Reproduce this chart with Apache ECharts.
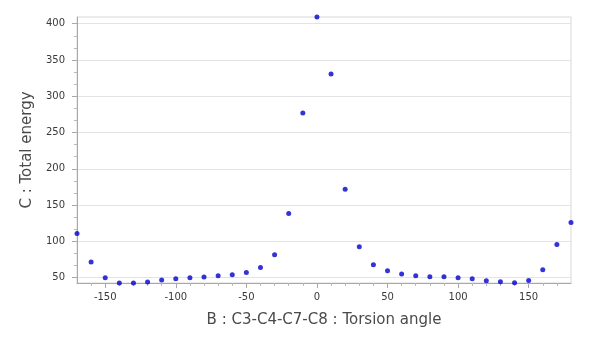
<!DOCTYPE html>
<html>
<head>
<meta charset="utf-8">
<script src="https://cdn.jsdelivr.net/npm/echarts@6/dist/echarts.min.js"></script>
<style>html,body{margin:0;padding:0;background:#fff;}#c{width:600px;height:337px;}</style>
</head>
<body>
<div id="c"></div>
<script>
const torsionAngles = [-170,-160,-150,-140,-130,-120,-110,-100,-90,-80,-70,-60,-50,-40,-30,-20,-10,0,10,20,30,40,50,60,70,80,90,100,110,120,130,140,150,160,170,180];
const totalEnergy = [111,71.6,50,42.7,42.7,44,47,48.6,50,51,52.8,54,57,64,81.7,138.6,277,409.2,330.7,171.7,92.7,68,59.6,55,52.8,51.4,51.4,50,48.6,45.9,44.5,43,46,61,95.9,126];
const xTickLabels = [-150,-100,-50,0,50,100,150];
const yTickLabels = [50,100,150,200,250,300,350,400];
const xTitle = 'B : C3-C4-C7-C8 : Torsion angle';
const yTitle = 'C : Total energy';

const points = torsionAngles.map((a, i) => [a, totalEnergy[i]]);
const font = 'DejaVu Sans';
const chart = echarts.init(document.getElementById('c'), null, {renderer: 'canvas'});
chart.setOption({
  animation: false,
  backgroundColor: '#ffffff',
  grid: {left: 77, right: 29, top: 17, bottom: 54, show: true, borderColor: '#d8d8d8', borderWidth: 1, backgroundColor: 'transparent'},
  xAxis: {
    type: 'value', min: 'dataMin', max: 'dataMax', splitNumber: 7,
    name: xTitle, nameLocation: 'middle', nameGap: 30,
    nameTextStyle: {fontFamily: font, fontSize: 15, color: '#4a4a4a'},
    axisLine: {show: true, onZero: false, lineStyle: {color: '#a8a8a8'}},
    axisTick: {show: true, length: 5, customValues: xTickLabels, lineStyle: {color: '#a8a8a8'}},
    minorTick: {show: true, splitNumber: 5, length: 3, lineStyle: {color: '#b8b8b8'}},
    axisLabel: {customValues: xTickLabels, fontFamily: font, fontSize: 10, color: '#3a3a3a', margin: 9},
    splitLine: {show: false}
  },
  yAxis: {
    type: 'value', min: 'dataMin', max: 'dataMax', splitNumber: 7,
    name: yTitle, nameLocation: 'middle', nameGap: 38,
    nameTextStyle: {fontFamily: font, fontSize: 15, color: '#4a4a4a'},
    axisLine: {show: true, onZero: false, lineStyle: {color: '#a8a8a8'}},
    axisTick: {show: true, length: 5, customValues: yTickLabels, lineStyle: {color: '#a8a8a8'}},
    minorTick: {show: true, splitNumber: 3, length: 3, lineStyle: {color: '#b8b8b8'}},
    axisLabel: {customValues: yTickLabels, fontFamily: font, fontSize: 10, color: '#3a3a3a', margin: 12},
    splitLine: {show: true, lineStyle: {color: '#e3e3e3'}}
  },
  series: [{
    type: 'scatter', data: points, symbol: 'circle', symbolSize: 5,
    itemStyle: {color: '#0000cc'}, clip: false
  }]
});
</script>
</body>
</html>
